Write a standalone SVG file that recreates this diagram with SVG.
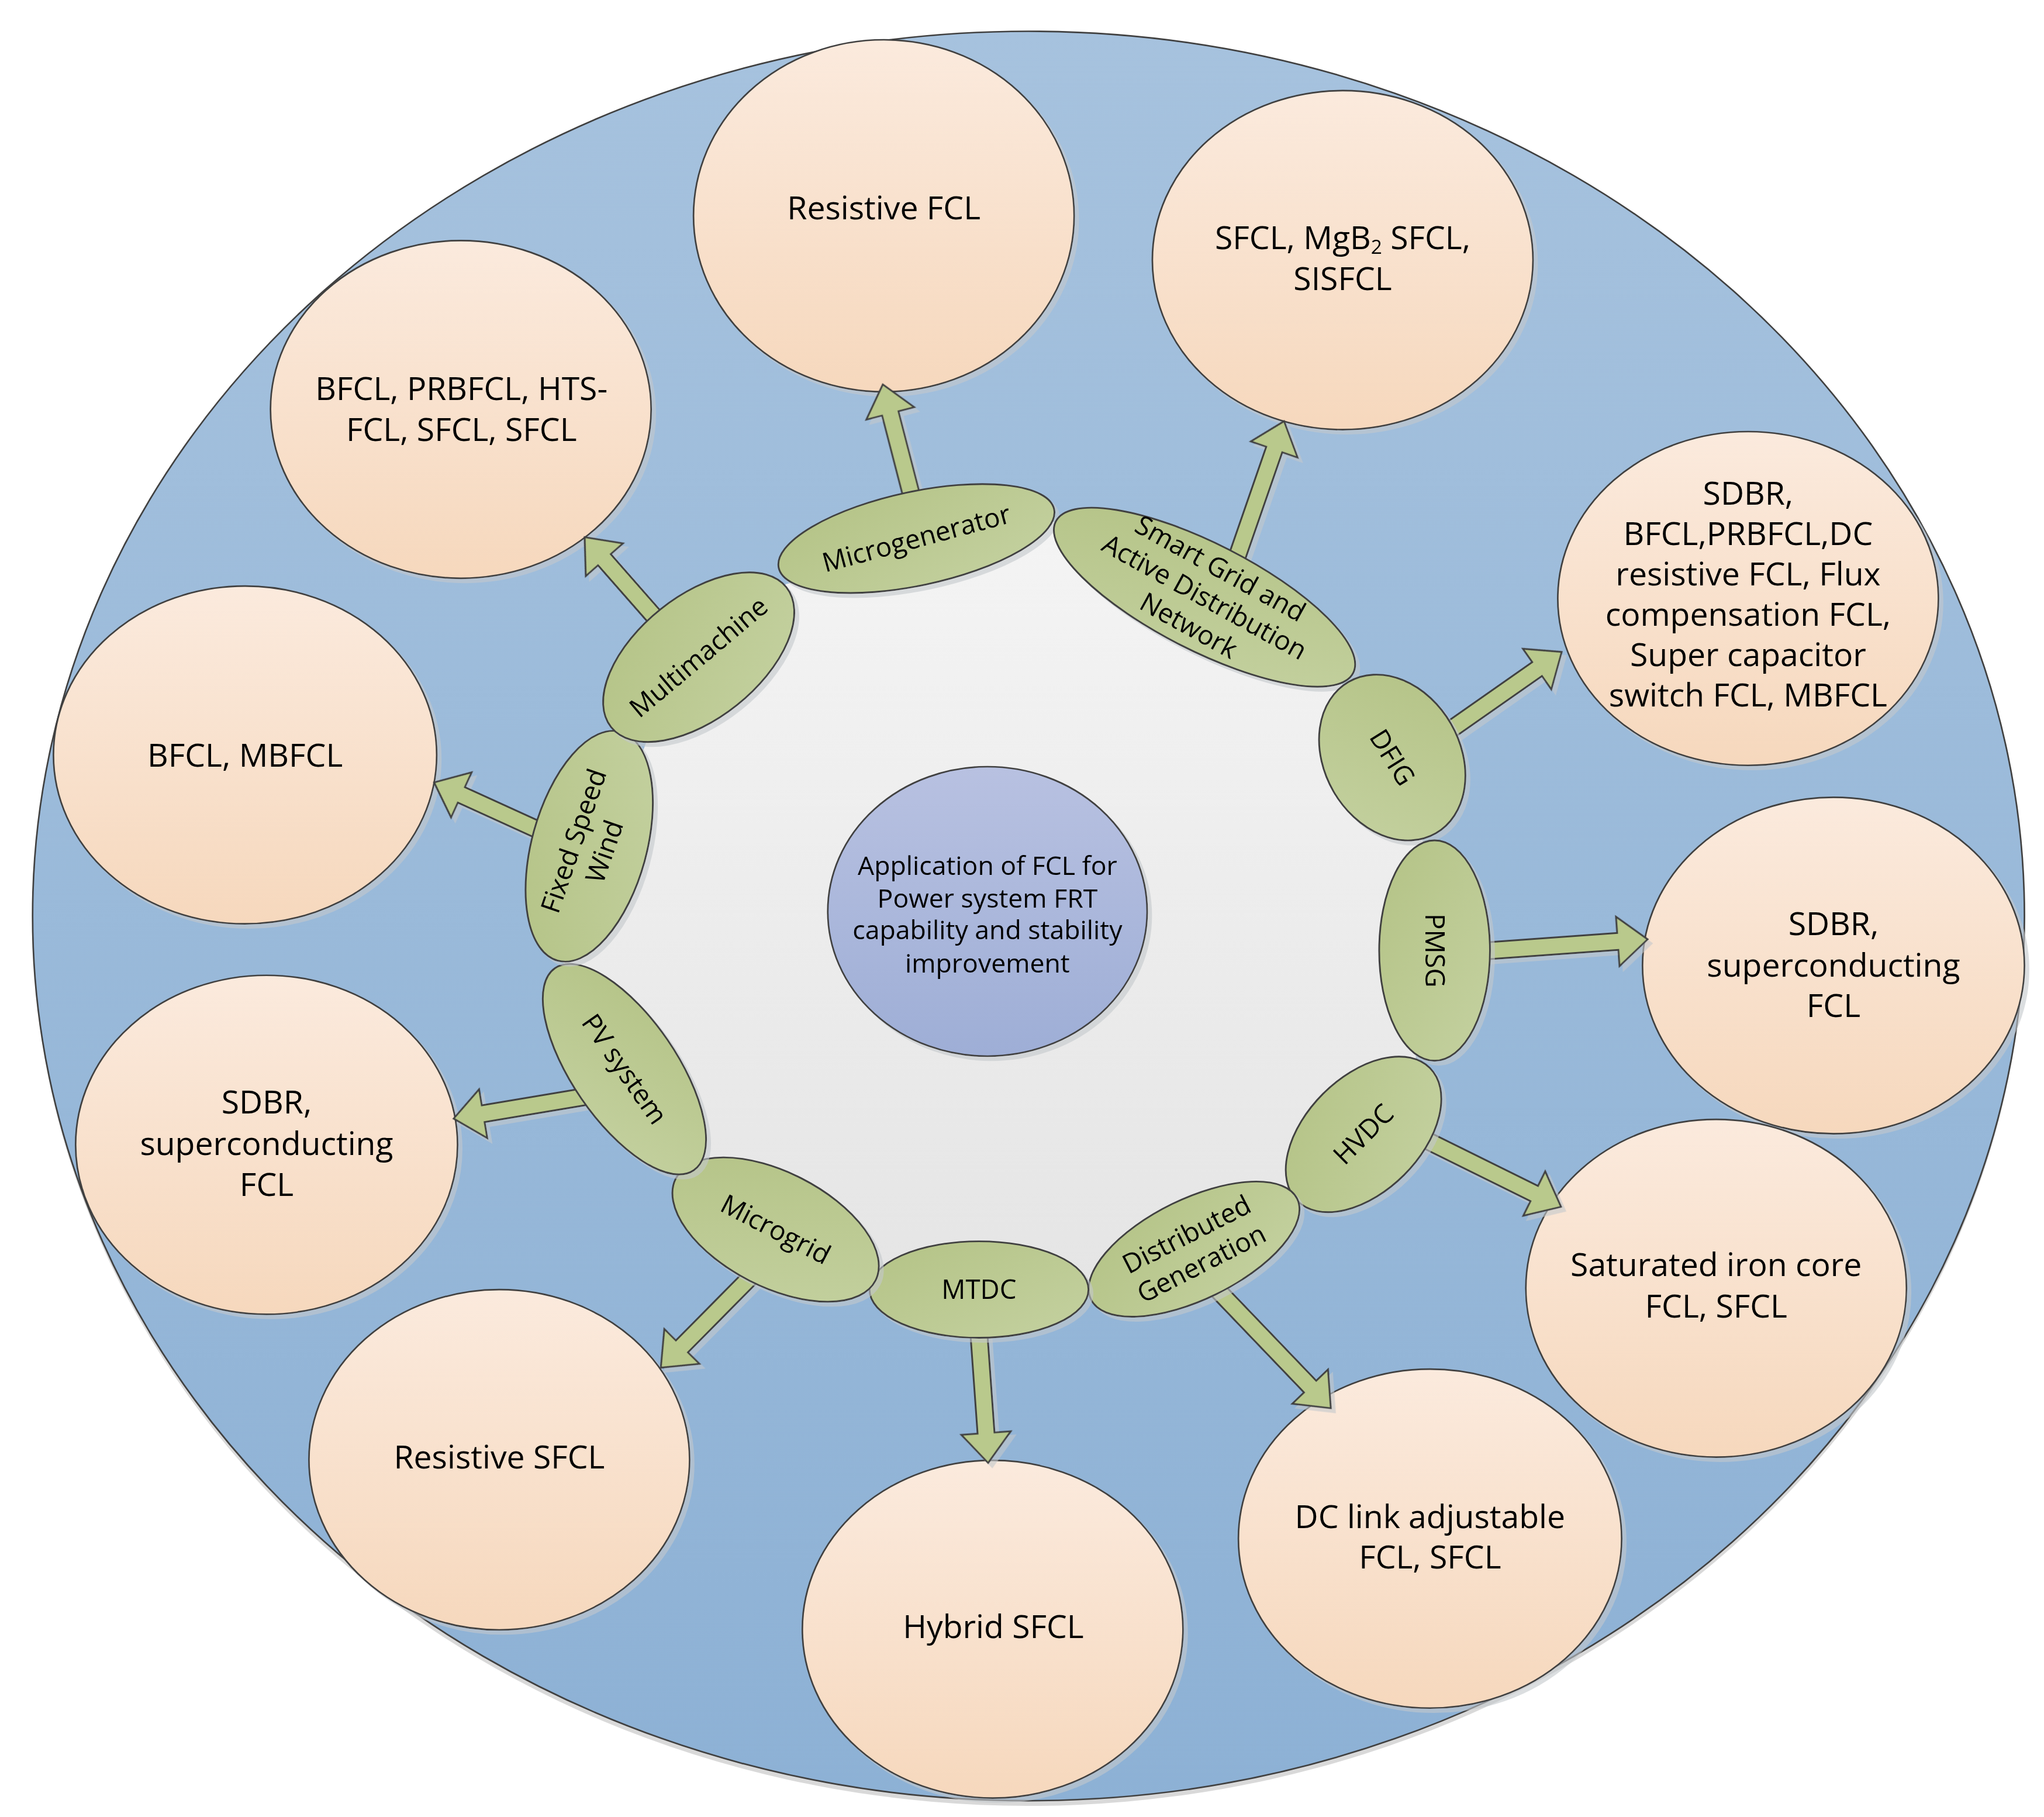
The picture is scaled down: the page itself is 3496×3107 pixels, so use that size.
<svg xmlns="http://www.w3.org/2000/svg" width="3496" height="3107" viewBox="0 0 3496 3107">
<defs>
<linearGradient id="gBlue" x1="0" y1="0" x2="0" y2="1"><stop offset="0" stop-color="#a6c2de"/><stop offset="1" stop-color="#8db1d5"/></linearGradient>
<linearGradient id="gGray" x1="0" y1="0" x2="0" y2="1"><stop offset="0" stop-color="#f4f4f4"/><stop offset="1" stop-color="#e5e5e5"/></linearGradient>
<linearGradient id="gPeach" x1="0" y1="0" x2="0" y2="1"><stop offset="0" stop-color="#fbeadd"/><stop offset="1" stop-color="#f6d8bd"/></linearGradient>
<linearGradient id="gGreen" x1="0" y1="0" x2="1" y2="1"><stop offset="0" stop-color="#b4c386"/><stop offset="1" stop-color="#c4d1a0"/></linearGradient>
<linearGradient id="gCenter" x1="0" y1="0" x2="0" y2="1"><stop offset="0" stop-color="#b8c1e1"/><stop offset="1" stop-color="#9eaed6"/></linearGradient>
<filter id="sh" x="-10%" y="-10%" width="125%" height="125%">
<feOffset in="SourceAlpha" dx="3" dy="3" result="o"/>
<feFlood flood-color="#c4c8cc" flood-opacity="0.6"/>
<feComposite in2="o" operator="in" result="s"/>
<feMerge><feMergeNode in="s"/><feMergeNode in="SourceGraphic"/></feMerge>
</filter>
</defs>
<style>
.outer{fill:url(#gBlue);stroke:#404040;stroke-width:1.2}
.inner{fill:url(#gGray);stroke:none}
.peach{fill:url(#gPeach);stroke:#404040;stroke-width:1.2}
.green{fill:url(#gGreen);stroke:#404040;stroke-width:1.3}
.center{fill:url(#gCenter);stroke:#404040;stroke-width:1.2}
.arrow{fill:#b9c98c;stroke:#404040;stroke-width:1.3;stroke-linejoin:miter}
text{font-family:"Open Sans","Noto Sans","Liberation Sans",sans-serif;fill:#000;text-anchor:middle}
.pt{font-size:24.8px}
.gt{font-size:20.5px}
.ct{font-size:20px}
</style>
<g transform="scale(2.2296)">
<g id="background">
<ellipse cx="789" cy="706" rx="764" ry="679" fill="#d9d9d9"/>
<ellipse class="outer" cx="789" cy="702.5" rx="764" ry="678.5"/>
<polygon class="inner" filter="url(#sh)" points="603,448 806,399 1030,525 1092,646 1086,814 988,922 835,982 672,987 542,893 432,738 497,566"/>
</g>

<g id="node-resistive-fcl" filter="url(#sh)"><ellipse class="peach" cx="678" cy="165.5" rx="146" ry="135"/><text class="pt" x="678" y="168">Resistive FCL</text></g>
<g id="node-sfcl-mgb2" filter="url(#sh)"><ellipse class="peach" cx="1030" cy="199.5" rx="146" ry="130"/><text class="pt" x="1030" y="191">SFCL, MgB<tspan font-size="15" baseline-shift="-3.5">2</tspan> SFCL,</text><text class="pt" x="1030" y="222.5">SISFCL</text></g>
<g id="node-bfcl-prbfcl" filter="url(#sh)"><ellipse class="peach" cx="353.5" cy="314" rx="146" ry="129.5"/><text class="pt" x="354" y="307">BFCL, PRBFCL, HTS-</text><text class="pt" x="354" y="338">FCL, SFCL, SFCL</text></g>
<g id="node-sdbr-bfcl" filter="url(#sh)"><ellipse class="peach" cx="1341" cy="459" rx="146" ry="128"/>
<text class="pt" x="1341" y="387">SDBR,</text><text class="pt" x="1341" y="418">BFCL,PRBFCL,DC</text><text class="pt" x="1341" y="449">resistive FCL, Flux</text><text class="pt" x="1341" y="480">compensation FCL,</text><text class="pt" x="1341" y="511">Super capacitor</text><text class="pt" x="1341" y="542">switch FCL, MBFCL</text></g>
<g id="node-bfcl-mbfcl" filter="url(#sh)"><ellipse class="peach" cx="188" cy="579" rx="147" ry="129.5"/><text class="pt" x="188" y="588">BFCL, MBFCL</text></g>
<g id="node-sdbr-right" filter="url(#sh)"><ellipse class="peach" cx="1406.5" cy="740.5" rx="146.5" ry="129"/><text class="pt" x="1406.5" y="717">SDBR,</text><text class="pt" x="1406.5" y="749">superconducting</text><text class="pt" x="1406.5" y="780">FCL</text></g>
<g id="node-sdbr-left" filter="url(#sh)"><ellipse class="peach" cx="204.5" cy="878" rx="146.5" ry="130"/><text class="pt" x="204.5" y="854">SDBR,</text><text class="pt" x="204.5" y="886">superconducting</text><text class="pt" x="204.5" y="917">FCL</text></g>
<g id="node-saturated" filter="url(#sh)"><ellipse class="peach" cx="1316.5" cy="988" rx="146" ry="129.5"/><text class="pt" x="1316.5" y="978.5">Saturated iron core</text><text class="pt" x="1316.5" y="1010.5">FCL, SFCL</text></g>
<g id="node-resistive-sfcl" filter="url(#sh)"><ellipse class="peach" cx="383" cy="1119.5" rx="146" ry="130.5"/><text class="pt" x="383" y="1126">Resistive SFCL</text></g>
<g id="node-dc-link" filter="url(#sh)"><ellipse class="peach" cx="1097" cy="1180" rx="147" ry="130"/><text class="pt" x="1097" y="1172">DC link adjustable</text><text class="pt" x="1097" y="1203">FCL, SFCL</text></g>
<g id="node-hybrid-sfcl" filter="url(#sh)"><ellipse class="peach" cx="761.5" cy="1249.5" rx="146" ry="129.5"/><text class="pt" x="762" y="1256.5">Hybrid SFCL</text></g>

<g id="connectors" filter="url(#sh)">
<polygon class="arrow" transform="translate(700,383) rotate(-104.5)" points="0,-6.5 68.1,-6.5 68.1,-19 91.1,0 68.1,19 68.1,6.5 0,6.5"/>
<polygon class="arrow" transform="translate(948,430) rotate(-70.9)" points="0,-6.5 90.2,-6.5 90.2,-19 113.2,0 90.2,19 90.2,6.5 0,6.5"/>
<polygon class="arrow" transform="translate(510,482) rotate(-131.3)" points="0,-6.5 70.2,-6.5 70.2,-19 93.2,0 70.2,19 70.2,6.5 0,6.5"/>
<polygon class="arrow" transform="translate(1098,570) rotate(-35)" points="0,-6.5 99.1,-6.5 99.1,-19 122.1,0 99.1,19 99.1,6.5 0,6.5"/>
<polygon class="arrow" transform="translate(425,642) rotate(-155.5)" points="0,-6.5 78.1,-6.5 78.1,-19 101.1,0 78.1,19 78.1,6.5 0,6.5"/>
<polygon class="arrow" transform="translate(1130,730) rotate(-4.1)" points="0,-6.5 111.3,-6.5 111.3,-19 134.3,0 111.3,19 111.3,6.5 0,6.5"/>
<polygon class="arrow" transform="translate(455,840) rotate(170.5)" points="0,-6.5 85.5,-6.5 85.5,-19 108.5,0 85.5,19 85.5,6.5 0,6.5"/>
<polygon class="arrow" transform="translate(1075,865) rotate(26.3)" points="0,-6.5 113.7,-6.5 113.7,-19 136.7,0 113.7,19 113.7,6.5 0,6.5"/>
<polygon class="arrow" transform="translate(590,965) rotate(134.7)" points="0,-6.5 95.1,-6.5 95.1,-19 118.1,0 95.1,19 95.1,6.5 0,6.5"/>
<polygon class="arrow" transform="translate(750,1010) rotate(85.9)" points="0,-6.5 89.3,-6.5 89.3,-19 112.3,0 89.3,19 89.3,6.5 0,6.5"/>
<polygon class="arrow" transform="translate(925,980) rotate(46.2)" points="0,-6.5 115.6,-6.5 115.6,-19 138.6,0 115.6,19 115.6,6.5 0,6.5"/>
</g>

<g id="node-microgenerator" filter="url(#sh)" transform="translate(703,413)"><ellipse class="green" rx="108" ry="36" transform="rotate(-12)"/><text class="gt" transform="rotate(-15)" y="7">Microgenerator</text></g>
<g id="node-smart-grid" filter="url(#sh)" transform="translate(924,458)"><ellipse class="green" rx="128" ry="41" transform="rotate(27)"/><g transform="rotate(29)"><text class="gt" y="-18">Smart Grid and</text><text class="gt" y="7">Active Distribution</text><text class="gt" y="32">Network</text></g></g>
<g id="node-dfig" filter="url(#sh)" transform="translate(1068,581)"><ellipse class="green" rx="67" ry="52" transform="rotate(60)"/><text class="gt" transform="rotate(58)" y="7">DFIG</text></g>
<g id="node-pmsg" filter="url(#sh)" transform="translate(1100.5,729)"><ellipse class="green" rx="42.5" ry="84.5"/><text class="gt" transform="rotate(90)" y="7">PMSG</text></g>
<g id="node-hvdc" filter="url(#sh)" transform="translate(1046,870)"><ellipse class="green" rx="72" ry="44" transform="rotate(-45)"/><text class="gt" transform="rotate(-45)" y="7">HVDC</text></g>
<g id="node-distributed-generation" filter="url(#sh)" transform="translate(916,958)"><ellipse class="green" rx="88" ry="38.5" transform="rotate(-26)"/><g transform="rotate(-27)"><text class="gt" y="-5.5">Distributed</text><text class="gt" y="19.5">Generation</text></g></g>
<g id="node-mtdc" filter="url(#sh)" transform="translate(751,989)"><ellipse class="green" rx="84" ry="37"/><text class="gt" y="7">MTDC</text></g>
<g id="node-microgrid" filter="url(#sh)" transform="translate(595,943)"><ellipse class="green" rx="86" ry="44" transform="rotate(27)"/><text class="gt" transform="rotate(27.5)" y="7">Microgrid</text></g>
<g id="node-pv-system" filter="url(#sh)" transform="translate(479,820)"><ellipse class="green" rx="94" ry="40" transform="rotate(55.5)"/><text class="gt" transform="rotate(55)" y="7">PV system</text></g>
<g id="node-fixed-speed-wind" filter="url(#sh)" transform="translate(452,649)"><ellipse class="green" rx="91" ry="44" transform="rotate(-74.6)"/><g transform="rotate(-71)"><text class="gt" y="-5.5">Fixed Speed</text><text class="gt" y="19.5">Wind</text></g></g>
<g id="node-multimachine" filter="url(#sh)" transform="translate(536,504)"><ellipse class="green" rx="86" ry="47" transform="rotate(-38.6)"/><text class="gt" transform="rotate(-40)" y="7">Multimachine</text></g>

<g id="node-center" filter="url(#sh)"><ellipse class="center" cx="757.5" cy="699" rx="122.5" ry="111"/>
<text class="ct" x="757.5" y="671">Application of FCL for</text><text class="ct" x="757.5" y="696">Power system FRT</text><text class="ct" x="757.5" y="720.5">capability and stability</text><text class="ct" x="757.5" y="746">improvement</text></g>
</g>
</svg>
